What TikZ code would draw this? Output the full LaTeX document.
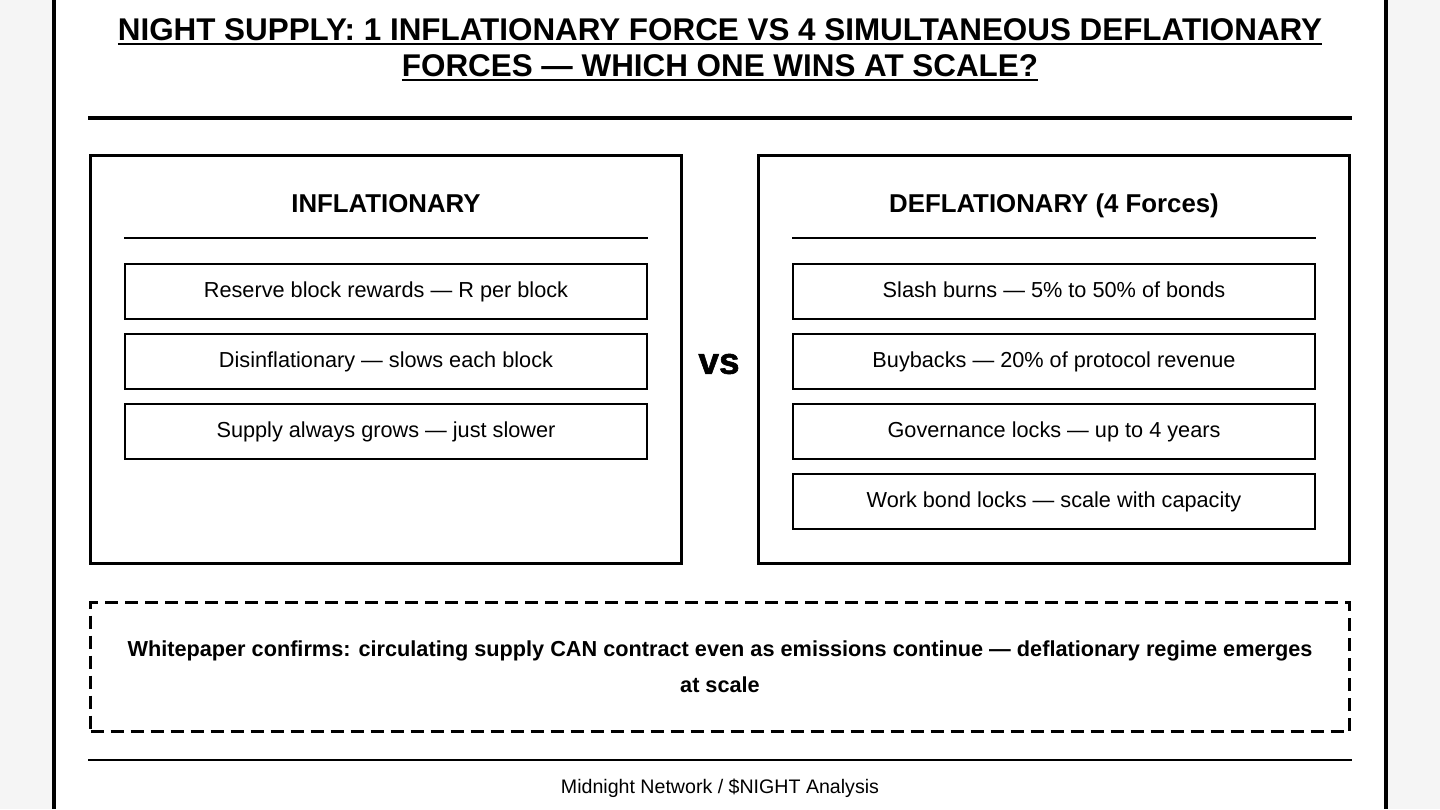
\documentclass[tikz,border=0pt]{standalone}
\usepackage{fontspec}
\setmainfont{Liberation Sans}
\newfontfamily\heavyfont[FakeBold=1.5]{Liberation Sans Bold}
\usepackage{tikz}
\usetikzlibrary{positioning,calc}
\definecolor{pagegray}{RGB}{245,245,245}
\newcommand{\ulbar}[1]{\setbox0\hbox{#1}\rlap{\rule[-5pt]{\wd0}{2pt}}\box0}

\begin{document}
\begin{tikzpicture}[x=1pt,y=-1pt,
  panel/.style={draw,line width=3pt,minimum width=591pt,minimum height=408pt,inner sep=0pt},
  item/.style={draw,line width=2pt,minimum width=522pt,minimum height=55pt,inner sep=0pt,
               text height=16pt,text depth=5pt,font=\fontsize{21.7}{24}\selectfont},
  hdr/.style={font=\fontsize{25.8}{28}\selectfont\bfseries,anchor=base},
  rulethin/.style={line width=2pt},
  rulethick/.style={line width=4pt}
]
\useasboundingbox (0,0) rectangle (1440,809);
% page: grey margins, white sheet with side borders
\fill[pagegray] (0,0) rectangle (1440,809);
\fill[white] (53.5,0) rectangle (1385.5,809);
\draw[line width=4pt] (53.5,0) -- (53.5,809) (1385.5,0) -- (1385.5,809);

% Title (two underlined lines, anchored on the last baseline)
\node[align=center,anchor=base,font=\fontsize{31.4}{36}\selectfont\bfseries] (title) at (720,76)
  {\ulbar{NIGHT SUPPLY: 1 INFLATIONARY FORCE VS 4 SIMULTANEOUS DEFLATIONARY}\\
   \ulbar{FORCES --- WHICH ONE WINS AT SCALE?}};
\draw[rulethick] (88,118) -- (1352,118);

% Left panel: inflationary
\node[panel] (infl) at (386,359.5) {};
\node[hdr] (inflhdr) at (386,212) {INFLATIONARY};
\draw[rulethin] (124,238) -- (648,238);
\node[item] (i1) at (386,291.5) {Reserve block rewards --- R per block};
\node[item] (i2) at (386,361.5) {Disinflationary --- slows each block};
\node[item] (i3) at (386,431.5) {Supply always grows --- just slower};

% middle
\node[font=\fontsize{37}{40}\heavyfont] (vs) at (719,364) {vs};

% Right panel: deflationary
\node[panel] (defl) at (1054,359.5) {};
\node[hdr] (deflhdr) at (1054,212) {DEFLATIONARY (4 Forces)};
\draw[rulethin] (792,238) -- (1316,238);
\node[item] (d1) at (1054,291.5) {Slash burns --- 5\% to 50\% of bonds};
\node[item] (d2) at (1054,361.5) {Buybacks --- 20\% of protocol revenue};
\node[item] (d3) at (1054,431.5) {Governance locks --- up to 4 years};
\node[item] (d4) at (1054,501.5) {Work bond locks --- scale with capacity};

% Conclusion (dashed)
\node[draw,line width=3pt,dash pattern=on 13pt off 7pt,minimum width=1259pt,minimum height=129pt,
      inner sep=0pt,align=center,font=\fontsize{21.7}{36}\selectfont\bfseries] (verdict) at (720,667)
  {Whitepaper confirms: circulating supply CAN contract even as emissions continue --- deflationary regime emerges\\
   at scale};

% footer
\draw[rulethin] (88,760) -- (1352,760);
\node[font=\fontsize{19.6}{24}\selectfont] (footer) at (720,788) {Midnight Network / \$NIGHT Analysis};
\end{tikzpicture}
\end{document}
